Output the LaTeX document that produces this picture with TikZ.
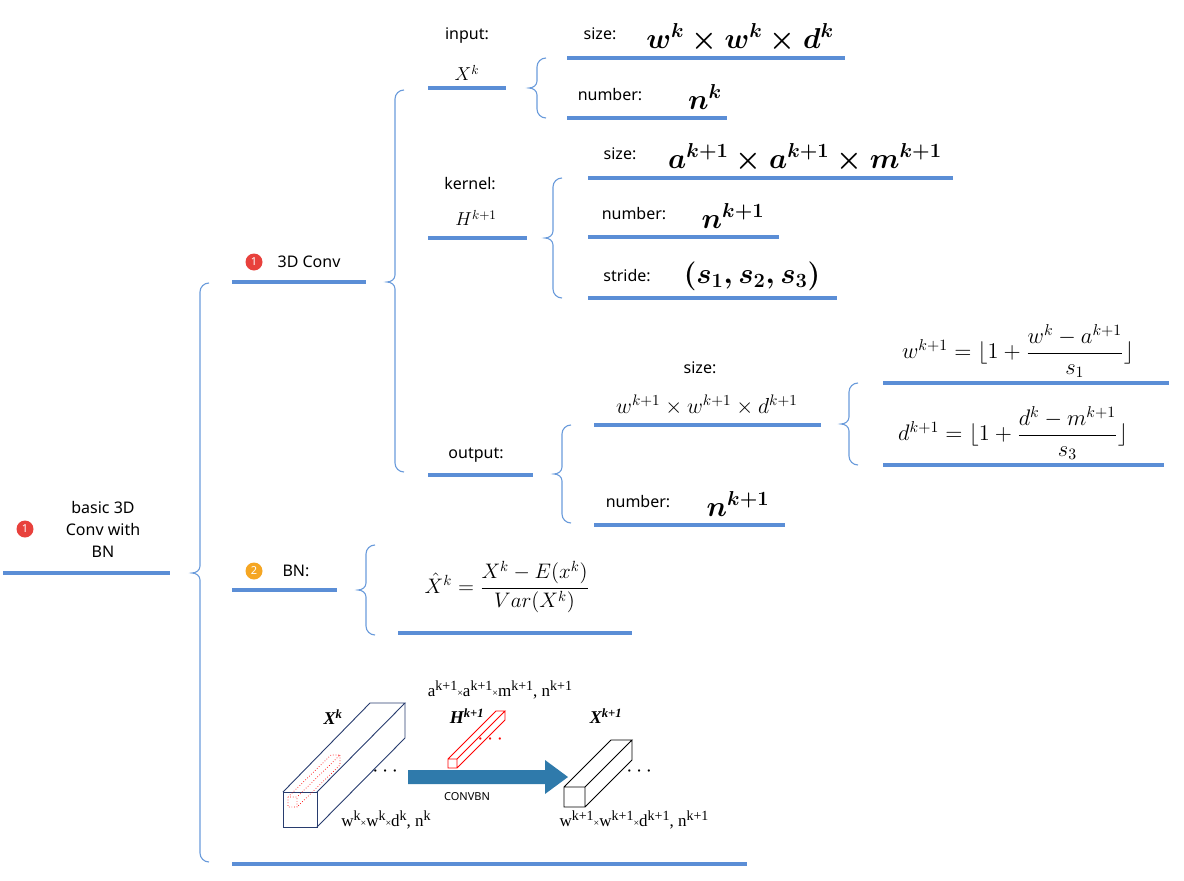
\RequirePackage{fix-cm}
\documentclass[tikz,border=0pt]{standalone}
\usepackage{amsmath}
\usepackage{fontspec}
\setmainfont{Noto Sans}
\newfontfamily\tms{Liberation Serif}
\usetikzlibrary{calc}
\definecolor{lb}{HTML}{5B8ED6}
\definecolor{bc}{HTML}{6A9BDB}
\definecolor{ar}{HTML}{2F7AAB}
\definecolor{nr}{HTML}{E8413C}
\definecolor{no}{HTML}{F5A623}
\tikzset{
  bar/.style={lb,line width=3.4pt},
  lbl/.style={font=\fontsize{16}{18}\selectfont,inner sep=0pt},
  big/.style={font=\fontsize{24}{26}\selectfont\boldmath,inner sep=0pt},
  smth/.style={font=\fontsize{15}{17}\selectfont,inner sep=0pt},
  badge/.style={circle,fill=#1,text=white,inner sep=0pt,minimum size=17pt,font=\bfseries\fontsize{11}{11}\selectfont},
  tm/.style={font=\tms\fontsize{17}{19}\selectfont,inner sep=0pt},
  bt/.style={font=\tms\bfseries\itshape\fontsize{18}{18}\selectfont,inner sep=0pt},
}
\newcommand\sps[1]{\raisebox{0.38em}{\fontsize{14}{14}\selectfont #1}}
\newcommand\tx{{\fontsize{10}{10}\selectfont ×}}
\newcommand\brc[4]{\draw[bc,line width=1.1pt] ({#1+9},#2) to[out=180,in=90] (#1,{#2+9}) -- (#1,{#3-7}) to[out=-90,in=0] ({#1-8},#3) to[out=0,in=90] (#1,{#3+7}) -- (#1,{#4-9}) to[out=-90,in=180] ({#1+9},#4);}
\begin{document}
\begin{tikzpicture}[x=1pt,y=-1pt]
\useasboundingbox (0,0) rectangle (1184,881);
% bars
\draw[bar] (3,573) -- (170,573);
\draw[bar] (232,282) -- (366,282);
\draw[bar] (232,590) -- (337,590);
\draw[bar] (232,864) -- (747,864);
\draw[bar] (428,88) -- (506,88);
\draw[bar] (567,58) -- (845,58);
\draw[bar] (567,118) -- (727,118);
\draw[bar] (428,238) -- (527,238);
\draw[bar] (588,178) -- (953,178);
\draw[bar] (588,237) -- (779,237);
\draw[bar] (588,298) -- (837,298);
\draw[bar] (428,475) -- (533,475);
\draw[bar] (594,425) -- (821,425);
\draw[bar] (594,525) -- (785,525);
\draw[bar] (883,383) -- (1169,383);
\draw[bar] (883,465) -- (1164,465);
\draw[bar] (398,633) -- (632,633);
% braces
\brc{200}{283}{573}{862}
\brc{395}{90}{282}{472}
\brc{537}{58}{88}{118}
\brc{553}{178}{238}{298}
\brc{562}{425}{474}{523}
\brc{849}{383}{424}{465}
\brc{366}{545}{590}{635}
% root
\node[badge=nr] (b0) at (25,529) {1};
\node[lbl,align=center,font=\fontsize{16}{22}\selectfont] (root) at (103,529) {basic 3D\\Conv with\\BN};
\node[badge=nr] (b1) at (254,262) {1};
\node[lbl] (conv) at (309,262) {3D Conv};
\node[badge=no] (b2) at (254,571) {2};
\node[lbl] (bn) at (296,571) {BN:};
% input
\node[lbl] (in) at (467,36) {input:};
\node[smth] (xk) at (467,73) {\scalebox{1.25}{$X^k$}};
\node[lbl] (s1) at (600,34) {size:};
\node[big] at (740,38) {\scalebox{1.2}{$w^k\times w^k\times d^k$}};
\node[lbl] at (610,95) {number:};
\node[big] at (705,97) {\scalebox{1.2}{$n^k$}};
% kernel
\node[lbl] at (470,184) {kernel:};
\node[smth] at (476,218) {\scalebox{1.25}{$H^{k+1}$}};
\node[lbl] at (620,154) {size:};
\node[big] at (805,158) {\scalebox{1.2}{$a^{k+1}\times a^{k+1}\times m^{k+1}$}};
\node[lbl] at (634,214) {number:};
\node[big] at (733,216) {\scalebox{1.2}{$n^{k+1}$}};
\node[lbl] at (627,276) {stride:};
\node[big] at (752,276) {\scalebox{1.2}{$(s_1,s_2,s_3)$}};
% output
\node[lbl] at (476,455) {output:};
\node[lbl] at (700,368) {size:};
\node[smth] at (707,405) {\scalebox{1.45}{$w^{k+1}\times w^{k+1}\times d^{k+1}$}};
\node[lbl] at (638,502) {number:};
\node[big] at (738,504) {\scalebox{1.2}{$n^{k+1}$}};
\node[smth] at (1018,351) {\scalebox{1.5}{$w^{k+1}=\lfloor 1+\dfrac{w^k-a^{k+1}}{s_1}\rfloor$}};
\node[smth] at (1013,433) {\scalebox{1.5}{$d^{k+1}=\lfloor 1+\dfrac{d^k-m^{k+1}}{s_3}\rfloor$}};
% BN
\node[smth] at (507,587) {\scalebox{1.4}{$\hat{X}^k=\dfrac{X^k-E(x^k)}{Var(X^k)}$}};
% figure
\begin{scope}[line width=0.9pt]
\draw[color={rgb,255:red,40;green,60;blue,110}] (283,792) rectangle (317,827);
\draw[color={rgb,255:red,40;green,60;blue,110}] (283,792) -- (370,703) -- (405,703) -- (317,792);
\draw[color={rgb,255:red,40;green,60;blue,110}] (405,703) -- (405,738) -- (317,827);
\draw[red,dotted,line width=0.7pt] (288,797) rectangle (297,807) (288,797) -- (331,755) -- (340,755) -- (297,797) (340,755) -- (340,765) -- (297,807);
\draw[red] (448,759) rectangle (457,768) (448,759) -- (496,711) -- (505,711) -- (457,759) (505,711) -- (505,720) -- (457,768);
\draw[black] (564,787) rectangle (585,807) (564,787) -- (611,740) -- (632,740) -- (585,787) (632,740) -- (632,760) -- (585,807);
\end{scope}
\fill[ar] (408,770) -- (545,770) -- (545,760) -- (568,777) -- (545,794) -- (545,784) -- (408,784) -- cycle;
\node[font=\fontsize{22}{22}\selectfont,inner sep=0pt] at (387,772) {$\cdots$};
\node[red,font=\fontsize{22}{22}\selectfont,inner sep=0pt] at (492,740) {$\cdots$};
\node[font=\fontsize{22}{22}\selectfont,inner sep=0pt] at (641,772) {$\cdots$};
\node[inner sep=0pt,font=\fontsize{11}{12}\selectfont] at (467,797) {CONVBN};
\node[bt] at (333,717) {X\textsuperscript{k}};
\node[bt] at (467,716) {H\textsuperscript{k+1}};
\node[bt] at (606,716) {X\textsuperscript{k+1}};
\node[tm] at (500,690) {a\sps{k+1}\tx a\sps{k+1}\tx m\sps{k+1}, n\sps{k+1}};
\node[tm] at (386,820) {w\sps{k}\tx w\sps{k}\tx d\sps{k}, n\sps{k}};
\node[tm] at (634,820) {w\sps{k+1}\tx w\sps{k+1}\tx d\sps{k+1}, n\sps{k+1}};
\end{tikzpicture}
\end{document}
